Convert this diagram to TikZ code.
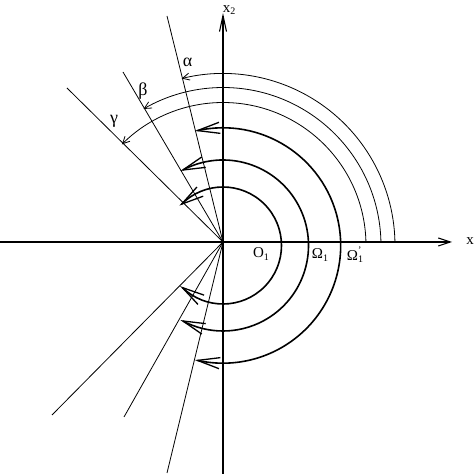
\documentclass[tikz,border=0pt]{standalone}
\usepackage{fontspec}
\setmainfont{Liberation Serif}
\usetikzlibrary{arrows.meta,calc}
\newcommand{\sbx}[1]{\raisebox{-0.4ex}{\fontsize{10}{12}\selectfont #1}}
% open barb arrow head: #1 centre, #2 radius, #3 angle of the tip on the arc, #4 pointing direction
\newcommand{\barbtip}[4]{\draw[tipline] ($(#1)+(#3:#2)$) ++(#4+166:23) -- ($(#1)+(#3:#2)$) -- ++(#4+194:23);}
\begin{document}
\begin{tikzpicture}[x=1pt,y=1pt,
  thinline/.style={line width=0.8pt},
  axisline/.style={line width=1.1pt},
  tipline/.style={line width=1.3pt,line join=miter},
  thickarc/.style={line width=1.6pt},
  thinarc/.style={line width=0.8pt,-{Straight Barb[length=7pt,width=7pt,quick]}},
  lbl/.style={inner sep=0pt,font=\fontsize{15}{18}\selectfont},
  glbl/.style={inner sep=0pt,font=\fontsize{18}{20}\selectfont}]
\useasboundingbox (0,0) rectangle (474,474);
% key points
\coordinate (O) at (223,232);
\coordinate (C) at (223,228.5);
\coordinate (XL) at (0,232);
\coordinate (XR) at (452,232);
\coordinate (YB) at (223,0);
\coordinate (YT) at (223,461);
\coordinate (Ea) at (167,458);
\coordinate (Eb) at (123,402);
\coordinate (Ec) at (67,386);
\coordinate (La) at (52,59);
\coordinate (Lb) at (124,57);
\coordinate (Lc) at (167,1);
% axes
\draw[axisline,-{Straight Barb[length=12pt,width=8pt]}] (XL) -- (XR);
\draw[axisline,-{Straight Barb[length=16pt,width=7pt]}] (YB) -- (YT);
% rays
\draw[thinline] (O) -- (Ea);
\draw[thinline] (O) -- (Eb);
\draw[thinline] (O) -- (Ec);
\draw[thinline] (O) -- (La);
\draw[thinline] (O) -- (Lb);
\draw[thinline] (O) -- (Lc);
% thin arcs
\draw[thinarc] (C) ++(1.2:172) arc[start angle=1.2,end angle=103.9,radius=172];
\draw[thinarc] (C) ++(1.3:158) arc[start angle=1.3,end angle=120.2,radius=158];
\draw[thinarc] (C) ++(1.4:143) arc[start angle=1.4,end angle=135,radius=143];
% thick arcs
\draw[thickarc] (C) ++(135:58.5) arc[start angle=135,end angle=-134,radius=58.5];
\draw[thickarc] (C) ++(118:85.5) arc[start angle=118,end angle=-118,radius=85.5];
\draw[thickarc] (C) ++(102.5:117.7) arc[start angle=102.5,end angle=-102.5,radius=117.7];
% arrow heads of the thick arcs
\barbtip{C}{58.5}{135}{214.2}
\barbtip{C}{58.5}{-134}{146.8}
\barbtip{C}{85.5}{118}{200.6}
\barbtip{C}{85.5}{-118}{159.4}
\barbtip{C}{117.7}{102.5}{187.1}
\barbtip{C}{117.7}{-102.5}{172.9}
% labels
\node[glbl] (la) at (187.5,412) {α};
\node[glbl] (lb) at (143,383) {β};
\node[glbl] (lc) at (114,353) {γ};
\node[lbl] (lx2) at (229,464) {x\sbx{2}};
\node[lbl] (lx) at (470,233) {x};
\node[lbl] (lo) at (261,220) {O\sbx{1}};
\node[lbl] (lom) at (320,219) {Ω\sbx{1}};
\node[lbl] (lomp) at (355,219) {Ω\rlap{\raisebox{0.9ex}{\fontsize{10}{12}\selectfont ’}}\sbx{1}};
\end{tikzpicture}
\end{document}
